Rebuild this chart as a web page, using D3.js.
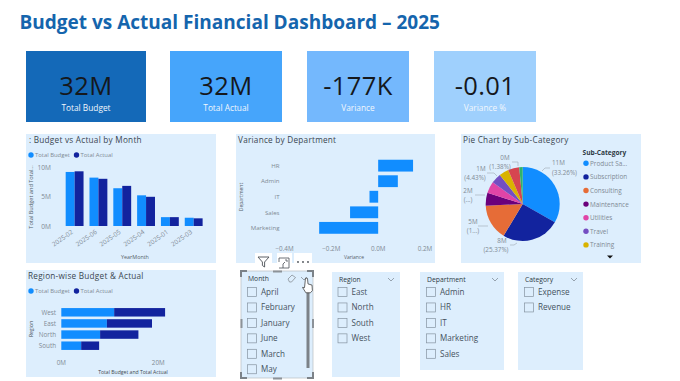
<!DOCTYPE html>
<html><head><meta charset="utf-8">
<script src="https://cdn.jsdelivr.net/npm/d3@7/dist/d3.min.js"></script>
<style>html,body{margin:0;padding:0;background:#fff;overflow:hidden}svg{display:block}text{font-family:"Open Sans",sans-serif}</style>
</head><body><svg id="c" width="680" height="381"></svg>
<script>
const titleText = "Budget vs Actual Financial Dashboard – 2025";
const kpiValues = ["32M","32M","-177K","-0.01"];
const kpiLabels = ["Total Budget","Total Actual","Variance","Variance %"];
const months = ["2025-02","2025-06","2025-05","2025-04","2025-01","2025-03"];
const monthBudget = [9.16,8.2,6.4,5.2,1.5,1.4];
const monthActual = [9.27,8.0,6.8,4.95,1.5,1.3];
const depts = ["HR","Admin","IT","Sales","Marketing"];
const deptVariance = [0.149,0.084,-0.037,-0.12,-0.252];
const subCats = ["Product Sa...","Subscription","Consulting","Maintenance","Utilities","Travel","Training"];
const subShare = [33.26,25.37,15.6,5.64,5.1,4.43,4.2,4.9,1.5];
const pieColors = ["#118dff","#12239e","#e66c37","#6b007b","#e044a7","#744ec2","#d9b300","#d64550","#2fb36b"];
const pieLabels = [["11M","(33.26%)"],["8M","(25.37%)"],["5M","(1...)"],["2M","(...)"],["1M","(4.43%)"],["0M","(1.38%)"]];
const regions = ["West","East","North","South"];
const regionBudget = [10.9,9.4,8.0,4.1];
const regionActual = [10.5,9.3,7.9,3.7];
const slicers = [
 {t:"Month",items:["April","February","January","June","March","May"]},
 {t:"Region",items:["East","North","South","West"]},
 {t:"Department",items:["Admin","HR","IT","Marketing","Sales"]},
 {t:"Category",items:["Expense","Revenue"]}];

const svg = d3.select("#c");
const PANEL="#ddeefd", BUD="#118dff", ACT="#12239e", TITLE="#3a4650", AX="#7f8a94";
const txt=(x,y,s,o={})=>svg.append("text").attr("x",x).attr("y",y).text(s)
  .attr("font-size",o.fs||8).attr("fill",o.c||AX).attr("text-anchor",o.a||"start")
  .attr("font-weight",o.w||400).attr("font-family",o.f||null).attr("letter-spacing",o.ls||null)
  .attr("transform",o.t||null);
const rect=(x,y,w,h,c)=>svg.append("rect").attr("x",x).attr("y",y).attr("width",w).attr("height",h).attr("fill",c);

txt(19.5,29,titleText,{fs:20,c:"#1565ad",w:700,f:"'Noto Sans',sans-serif"})
  .attr("textLength",420.5).attr("lengthAdjust","spacingAndGlyphs");

// KPI cards
const kx=[[26,146],[170,282],[307,409],[434,536]], kc=["#1469b8","#46a5fb","#74b8fd","#9fd0fd"];
kpiValues.forEach((v,i)=>{
  const [a,b]=kx[i], m=(a+b)/2;
  rect(a,51,b-a,71,kc[i]);
  txt(m,94.5,v,{fs:25.5,c:"#15181c",a:"middle",f:"Roboto,sans-serif",ls:.4});
  txt(m,111,kpiLabels[i],{fs:8.3,c:"#f2f7fc",a:"middle"});
});

// panels
[[26,134,190,129],[236,134,199,129],[461,134,180,129],[26,270,190,107]].forEach(p=>rect(...p,PANEL));
const tf={fs:8.2,c:TITLE,ls:.25};
txt(29,143,": Budget vs Actual by Month",tf);
txt(238,143,"Variance by Department",tf);
txt(463,143,"Pie Chart by Sub-Category",tf);
txt(28,279,"Region-wise Budget & Actual",tf);

const legend=(x,y)=>{
  svg.append("circle").attr("cx",x).attr("cy",y).attr("r",2.7).attr("fill",BUD);
  txt(x+4,y+2.3,"Total Budget",{fs:5.9});
  svg.append("circle").attr("cx",x+45.5).attr("cy",y).attr("r",2.7).attr("fill",ACT);
  txt(x+49.5,y+2.3,"Total Actual",{fs:5.9});
};
legend(31,155); legend(31,291);

// monthly chart
const x1=d3.scaleBand().domain(months).range([63.3,205]).paddingInner(.25).paddingOuter(.1);
const y1=d3.scaleLinear().domain([0,10]).range([226,167]);
[0,5,10].forEach(t=>txt(51,y1(t)+2.5,t+"M",{fs:6.6,a:"end"}));
months.forEach((m,i)=>{
  const w=x1.bandwidth()/2;
  rect(x1(m),y1(monthBudget[i]),w,y1(0)-y1(monthBudget[i]),BUD);
  rect(x1(m)+w,y1(monthActual[i]),w,y1(0)-y1(monthActual[i]),ACT);
  const cx=x1(m)+w;
  txt(cx-1,233,m,{fs:6.4,a:"end",t:`rotate(-35 ${cx-1} 233)`});
});
txt(33,197,"Total Budget and Total...",{fs:5.6,c:"#555f68",a:"middle",t:"rotate(-90 33 197)"});
txt(135,259,"YearMonth",{fs:5.4,c:"#555f68",a:"middle"});

// variance chart
const x2=d3.scaleLinear().domain([-0.4,0.2]).range([284.5,425]);
const y2=d3.scaleBand().domain(depts).range([156,237.5]).padding(.24);
depts.forEach((d,i)=>{
  const v=deptVariance[i];
  rect(Math.min(x2(0),x2(v)),y2(d),Math.abs(x2(v)-x2(0)),y2.bandwidth(),BUD);
  txt(279.5,y2(d)+y2.bandwidth()/2+2.3,d,{fs:6.1,a:"end"});
});
[-0.4,-0.2,0,0.2].forEach(t=>txt(x2(t),250.5,d3.format(".1f")(t)+"M",{fs:6.3,a:"middle"}));
txt(354,259,"Variance",{fs:5,c:"#555f68",a:"middle"});
txt(243,197,"Department",{fs:5,c:"#555f68",a:"middle",t:"rotate(-90 243 197)"});

// pie
const pie=d3.pie().sort(null).value(d=>d)(subShare);
const arc=d3.arc().innerRadius(0).outerRadius(37);
const pg=svg.append("g").attr("transform","translate(522.7,204)");
pg.selectAll("path").data(pie).join("path").attr("d",arc).attr("fill",(d,i)=>pieColors[i]);
const labelPos=[[[552,165],[552,175]],[[502,243],[496,252]],[[473,224],[473,233]],[[468,193],[468,202]],[[481,171],[475,180]],[[505,160],[500,169]]];
pieLabels.forEach((l,i)=>l.forEach((s,j)=>txt(labelPos[i][j][0],labelPos[i][j][1],s,{fs:6.3,a:i===0?"start":"middle"})));
const leaders=[[[542,171],[545,168],[550,168]],[[517,243],[514,245],[510,245]],[[488,226],[478,226]],[[485,195],[475,195]],[[497,176],[494,173],[487,173]],[[518,166],[518,162],[512,162]]];
leaders.forEach(p=>svg.append("path").attr("d",d3.line()(p)).attr("fill","none").attr("stroke","#a8b2bb").attr("stroke-width",.7));
txt(582.5,154.5,"Sub-Category",{fs:6.6,c:"#2e3a44",w:700});
subCats.forEach((s,i)=>{
  const y=163.3+i*13.6;
  svg.append("circle").attr("cx",586).attr("cy",y).attr("r",2.7).attr("fill",pieColors[i]);
  txt(590,y+2.4,s,{fs:6.4});
});
svg.append("path").attr("d","M607 255.5h6l-3 3z").attr("fill","#111");

// region chart
const x3=d3.scaleLinear().domain([0,20]).range([61.3,158.3]);
const y3=d3.scaleBand().domain(regions).range([305.4,352.6]).padding(.24);
regions.forEach((r,i)=>{
  const a=regionBudget[i], b=regionActual[i];
  rect(x3(0),y3(r),x3(a)-x3(0),y3.bandwidth(),BUD);
  rect(x3(a),y3(r),x3(a+b)-x3(a),y3.bandwidth(),ACT);
  txt(56,y3(r)+y3.bandwidth()/2+2.3,r,{fs:6.3,a:"end"});
});
[0,20].forEach(t=>txt(x3(t),364.5,t+"M",{fs:6.3,a:"middle"}));
txt(133,373.5,"Total Budget and Total Actual",{fs:5.1,c:"#3e4850",a:"middle"});
txt(33,329,"Region",{fs:5,c:"#3e4850",a:"middle",t:"rotate(-90 33 329)"});

// slicers
const sb=[[241,271,72,107,261],[332,272,68,105,351.5],[420,272,84,98,440],[518,272,65,98,538]];
slicers.forEach((s,i)=>{
  const [x,y,w,h,tx]=sb[i];
  rect(x,y,w,h,PANEL);
  txt(x+7,y+10,s.t,{fs:6.8,c:"#2e3a44"});
  const cx=x+w-12;
  svg.append("path").attr("d",`M${cx} ${y+6}l3 3l3-3`).attr("fill","none").attr("stroke","#8d99a5").attr("stroke-width",.9);
  s.items.forEach((it,j)=>{
    const iy=292+j*15.45;
    svg.append("rect").attr("x",tx-13.5).attr("y",iy-4.5).attr("width",9).attr("height",9)
      .attr("fill","none").attr("stroke","#8593a0").attr("stroke-width",.7);
    txt(tx,iy+3,it,{fs:8.1,c:"#45525e"});
  });
});
// month slicer selection frame & scrollbar
rect(306.5,285,3,83,"#7c8288");
svg.append("rect").attr("x",241).attr("y",271).attr("width",72).attr("height",107).attr("fill","none").attr("stroke","#b7bcc1").attr("stroke-width",.7);
[[241,271,1,1],[313,271,-1,1],[241,378,1,-1],[313,378,-1,-1]].forEach(([x,y,a,b])=>
  svg.append("path").attr("d",`M${x} ${y+b*6}V${y}H${x+a*6}`).attr("fill","none").attr("stroke","#7c8288").attr("stroke-width",2));
[[273,270.5,9,2],[273,377.5,9,2],[240.5,319,2,9],[312,319,2,9]].forEach(([x,y,w,h])=>rect(x,y,w,h,"#8c9298"));
// eraser
svg.append("path").attr("d","M288 279l4-4l3.5 2.5l-4 4.5h-2z").attr("fill","none").attr("stroke","#7c8288").attr("stroke-width",.7);
// visual header
rect(255,253,17,16,"#fff");rect(277,253,15,16,"#fff");rect(294,253,18,16,"#fff");
svg.append("path").attr("d","M258 257h11l-4.4 5v5l-2.2-1.5v-3.5z").attr("fill","none").attr("stroke","#4a4f55").attr("stroke-width",.9);
svg.append("path").attr("d","M279 262v-4h10v10h-6M279 268h4v-4M285 262l-2 2M285 260h2v2").attr("fill","none").attr("stroke","#4a4f55").attr("stroke-width",.8);
[298,303,308].forEach(x=>svg.append("circle").attr("cx",x).attr("cy",262).attr("r",.9).attr("fill","#4a4f55"));
// hand cursor
svg.append("path").attr("d","M305.5 278l2 0.4l0.5 5.5l4 1.2l0.4 5.5l-2 2.2h-4.5l-3.4-5.4l2 .3z").attr("fill","#fff").attr("stroke","#444").attr("stroke-width",.8);
</script></body></html>
